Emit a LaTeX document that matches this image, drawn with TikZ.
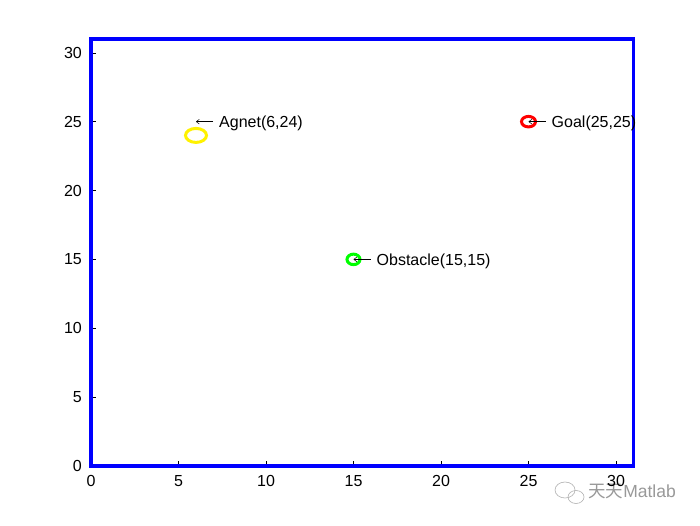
\documentclass[tikz,border=0pt]{standalone}
\usepackage{fontspec}
\setmainfont{Liberation Sans}
\newfontfamily\cjkfont{Noto Sans CJK SC}
\usetikzlibrary{shapes.geometric,arrows.meta}
\tikzset{
  lab/.style={font=\fontsize{16}{18}\selectfont, inner sep=0pt, anchor=west},
  ticklab/.style={font=\fontsize{16}{18}\selectfont, inner sep=0pt},
  tickmark/.style={black, line width=0.5pt},
  ring/.style={ellipse, draw, line width=3pt, inner sep=0pt},
  arr/.style={-{To[length=3.5pt,width=5pt]}, line width=0.5pt, black},
  wm/.style={black!30}
}
\begin{document}
\begin{tikzpicture}[x=1pt,y=1pt]
\useasboundingbox (0,0) rectangle (700,525);
\fill[white] (0,0) rectangle (700,525);
% watermark
\begin{scope}[wm, line width=0.6pt]
  \draw (565,35) circle [x radius=10pt, y radius=8pt];
  \draw (576,28) circle [x radius=8pt, y radius=6.5pt];
  \node[font=\fontsize{17.5}{19}\selectfont, inner sep=0pt, anchor=west, text=black!40] (wmtext) at (588,33) {{\cjkfont 天天}Matlab};
\end{scope}
\begin{scope}[shift={(91,59)}, x=17.5pt, y=13.774pt]
  % ticks and tick labels
  \foreach \v in {0,5,...,30} {
    \draw[tickmark] (\v,0) -- ++(0,5.4pt);
    \node[ticklab, anchor=north] (xt\v) at ([yshift=-9.5pt]\v,0) {\v};
    \draw[tickmark] (0,\v) -- ++(5.4pt,0);
    \node[ticklab, anchor=east] (yt\v) at ([xshift=-9pt]0,\v) {\v};
  }
  % boundary
  \draw[blue, line width=3.3pt] (0,0) rectangle (31,31);
  % agent
  \node[ring, draw=yellow, minimum width=21pt, minimum height=14pt] (agent) at (6,24) {};
  \coordinate (agentpt) at (6,25);
  \node[lab] (agentlab) at ([xshift=23pt,yshift=-2pt]6,25) {Agnet(6,24)};
  \draw[arr] ([xshift=-6pt]agentlab.west |- agentpt) -- (agentpt);
  % goal
  \node[ring, draw=red, minimum width=14pt, minimum height=10.5pt] (goal) at (25,25) {};
  \coordinate (goalpt) at (25,25);
  \node[lab] (goallab) at ([xshift=23pt,yshift=-2pt]25,25) {Goal(25,25)};
  \draw[arr] ([xshift=-6pt]goallab.west |- goalpt) -- (goalpt);
  % obstacle
  \node[ring, draw=green, minimum width=13pt, minimum height=10.5pt] (obst) at (15,15) {};
  \coordinate (obstpt) at (15,15);
  \node[lab] (obstlab) at ([xshift=23pt,yshift=-2pt]15,15) {Obstacle(15,15)};
  \draw[arr] ([xshift=-6pt]obstlab.west |- obstpt) -- (obstpt);
\end{scope}
\end{tikzpicture}
\end{document}
